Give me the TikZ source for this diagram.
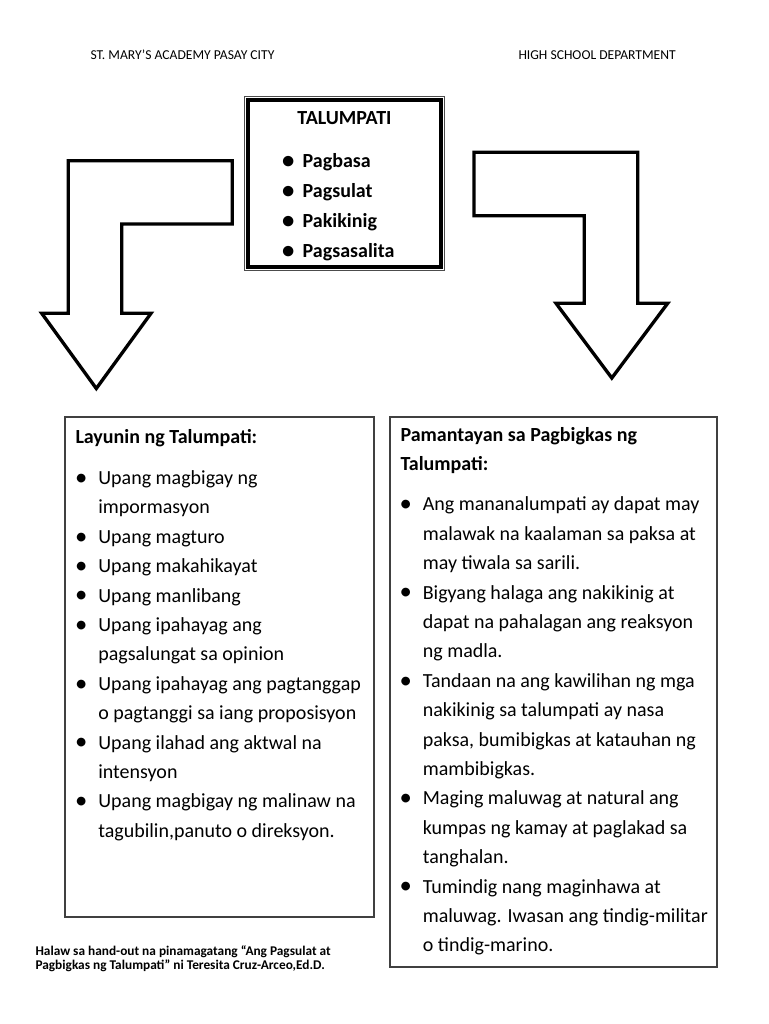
\documentclass[tikz,border=0pt]{standalone}
\usepackage{fontspec}
\setmainfont{Carlito}

\newcommand{\blt}[1][17.5pt]{\makebox[#1][l]{\raisebox{-0.6pt}{\fontsize{18.5}{20}\selectfont\textbullet}}}
\newcommand{\hng}[1][17.5pt]{\hspace*{#1}}

\tikzset{every picture/.style={line width=0.75pt}}
\tikzset{
  bentarrow/.style={draw=black, line width=2.5pt, fill=white, line join=miter},
  listframe/.style={draw=black!75, line width=1pt},
  bodytext/.style={anchor=north west, inner sep=0pt, align=left, font=\fontsize{15}{22.05}\selectfont},
  headtext/.style={anchor=base west, inner sep=0pt, font=\fontsize{10.2}{12}\selectfont},
}

\begin{document}
\begin{tikzpicture}[x=0.75pt,y=0.75pt,yscale=-1,xscale=1]
    \useasboundingbox (0,0) rectangle (768,1024);
    \fill[white] (0,0) rectangle (768,1024);

    % Text Node
    \draw (90,60) node [headtext] (school) {ST. MARY'S ACADEMY PASAY CITY};
    % Text Node
    \draw (518,60) node [headtext] (dept) {HIGH SCHOOL DEPARTMENT};

    %Shape: Frame [id:talumpati]
    \draw [line width=0.6pt, draw=black!70] (244.3,96.7) rectangle (444.3,270.3);
    \draw [line width=3pt] (248,100.3) rectangle (441,267);

    % Text Node
    \draw (344.5,124.7) node [anchor=base][inner sep=0pt] [font=\fontsize{15}{18}\selectfont\bfseries] (title) {TALUMPATI};
    % Text Node
    \draw (281.5,145.7) node [bodytext] [font=\fontsize{15}{22.5}\selectfont\bfseries] (skills) {\strut\blt[15.5pt]Pagbasa\\ \blt[15.5pt]Pagsulat\\ \blt[15.5pt]Pakikinig\\ \blt[15.5pt]Pagsasalita};

    %Bent Arrow [id:leftarrow]
    \draw [bentarrow] (68.3,160.7) -- (232.3,160.7) -- (232.3,224) -- (121.7,224) -- (121.7,313.3) -- (151,313.3) -- (96.3,388.5) -- (41.7,313.3) -- (68.3,313.3) -- cycle ;
    %Bent Arrow [id:rightarrow]
    \draw [bentarrow] (474,152.3) -- (637.7,152.3) -- (637.7,303.3) -- (667.7,303.3) -- (611.8,378) -- (556,303.3) -- (584.3,303.3) -- (584.3,215.7) -- (474,215.7) -- cycle ;

    %Shape: Rectangle [id:layunin]
    \draw [listframe] (65,417) rectangle (374,917);
    %Shape: Rectangle [id:pamantayan]
    \draw [listframe] (390,417) rectangle (717,967);

    % Text Node
    \draw (75,443.3) node [anchor=base west][inner sep=0pt] [font=\fontsize{15}{22.05}\selectfont\bfseries] (laytitle) {Layunin ng Talumpati:};
    % Text Node
    \draw (74.5,463.4) node [bodytext] (lay1) {\strut\blt Upang magbigay ng\\ \hng impormasyon};
    % Text Node
    \draw (74.5,522.2) node [bodytext] (lay2) {\strut\blt Upang magturo};
    % Text Node
    \draw (74.5,551.6) node [bodytext] (lay3) {\strut\blt Upang makahikayat};
    % Text Node
    \draw (74.5,581.0) node [bodytext] (lay4) {\strut\blt Upang manlibang};
    % Text Node
    \draw (74.5,610.4) node [bodytext] (lay5) {\strut\blt Upang ipahayag ang\\ \hng pagsalungat sa opinion};
    % Text Node
    \draw (74.5,669.2) node [bodytext] (lay6) {\strut\blt Upang ipahayag ang pagtanggap\\ \hng o pagtanggi sa iang proposisyon};
    % Text Node
    \draw (74.5,728.0) node [bodytext] (lay7) {\strut\blt Upang ilahad ang aktwal na\\ \hng intensyon};
    % Text Node
    \draw (74.5,786.8) node [bodytext] (lay8) {\strut\blt Upang magbigay ng malinaw na\\ \hng tagubilin,panuto o direksyon.};

    % Text Node
    \draw (400,420.4) node [bodytext] [font=\fontsize{15}{22.05}\selectfont\bfseries] (pamtitle) {\strut Pamantayan sa Pagbigkas ng\\ Talumpati:};
    % Text Node
    \draw (399,489.9) node [bodytext] (pam1) {\strut\blt Ang mananalumpati ay dapat may\\ \hng malawak na kaalaman sa paksa at\\ \hng may tiwala sa sarili.};
    % Text Node
    \draw (399,578.1) node [bodytext] (pam2) {\strut\blt Bigyang halaga ang nakikinig at\\ \hng dapat na pahalagan ang reaksyon\\ \hng ng madla.};
    % Text Node
    \draw (399,666.3) node [bodytext] (pam3) {\strut\blt Tandaan na ang kawilihan ng mga\\ \hng nakikinig sa talumpati ay nasa\\ \hng paksa, bumibigkas at katauhan ng\\ \hng mambibigkas.};
    % Text Node
    \draw (399,783.9) node [bodytext] (pam4) {\strut\blt Maging maluwag at natural ang\\ \hng kumpas ng kamay at paglakad sa\\ \hng tanghalan.};
    % Text Node
    \draw (399,872.1) node [bodytext] (pam5) {\strut\blt Tumindig nang maginhawa at\\ \hng maluwag. Iwasan ang tindig-militar\\ \hng o tindig-marino.};

    % Text Node
    \draw (35,944.5) node [anchor=north west][inner sep=0pt] [align=left] [font=\fontsize{10}{11}\selectfont\bfseries] (source) {\strut Halaw sa hand-out na pinamagatang “Ang Pagsulat at\\ Pagbigkas ng Talumpati” ni Teresita Cruz-Arceo,Ed.D.};

\end{tikzpicture}
\end{document}
